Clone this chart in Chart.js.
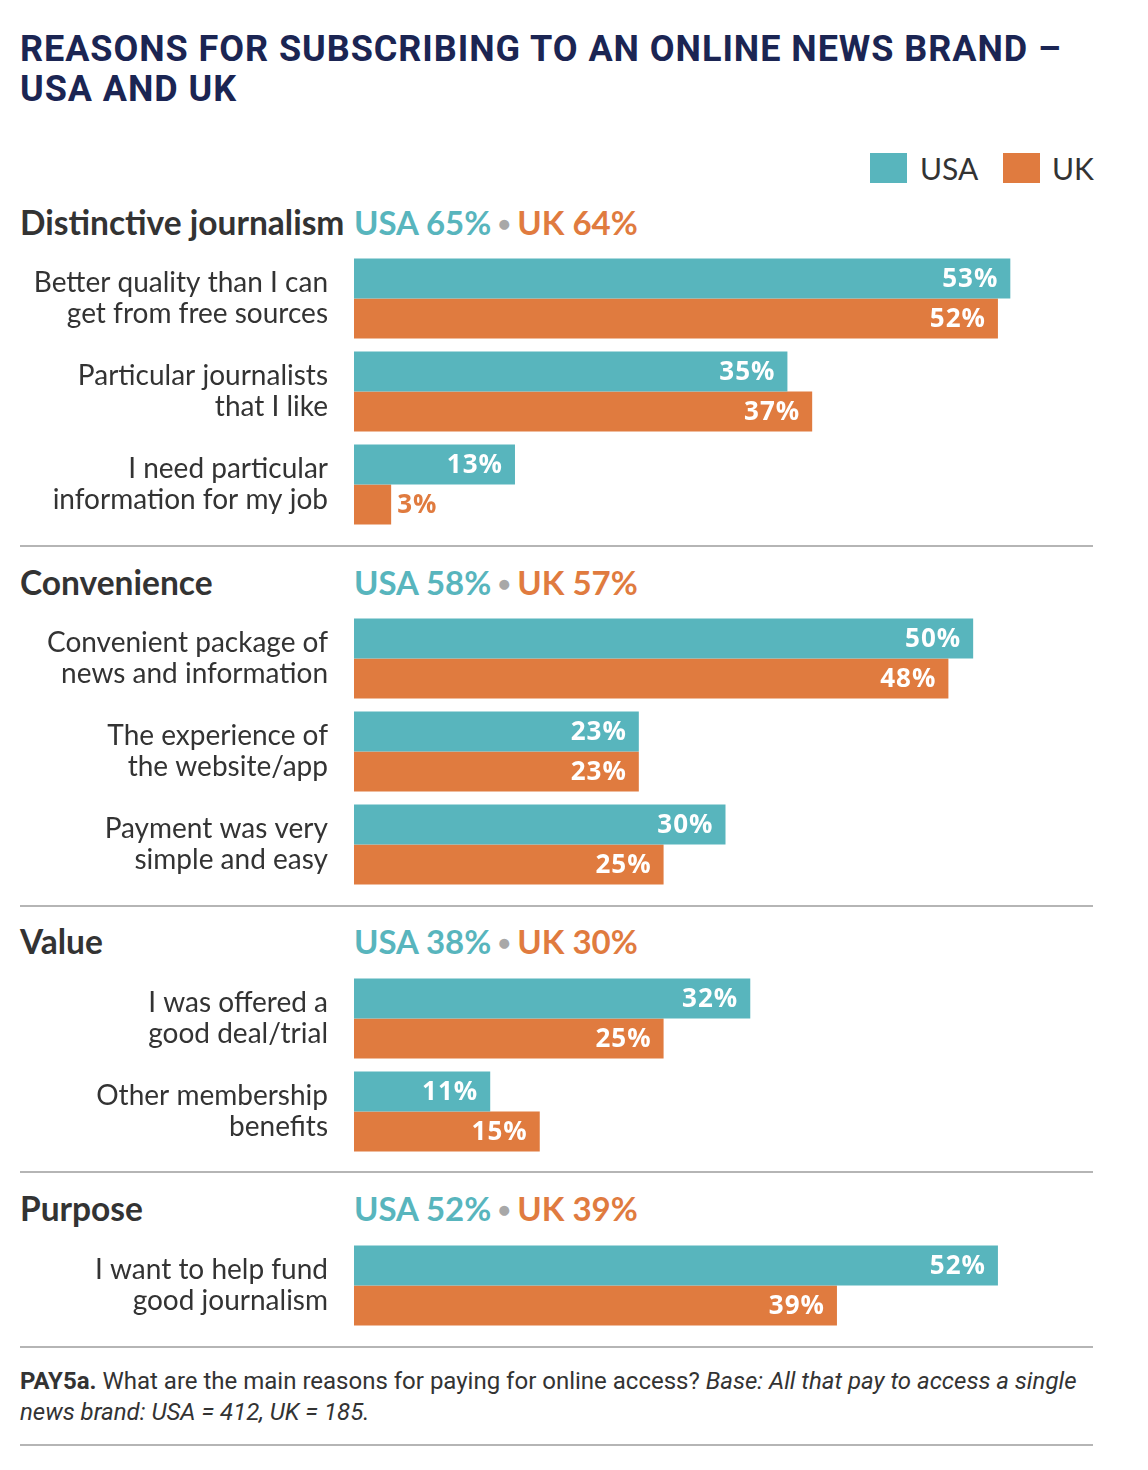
<!DOCTYPE html>
<html>
<head>
<meta charset="utf-8">
<script src="https://cdn.jsdelivr.net/npm/chart.js@4.4.1/dist/chart.umd.min.js"></script>
<style>
  body { margin: 0; background: #fff; width: 1148px; height: 1470px; position: relative; font-family: Lato, "Open Sans", sans-serif; color: #333; }
  .abs { position: absolute; }
  #title { left: 20px; top: 29px; font-family: Roboto, sans-serif; font-weight: 700; font-size: 36px; line-height: 40px; color: #1b2553; letter-spacing: 0.95px; white-space: nowrap; }
  .legend { top: 153px; font-size: 30px; line-height: 30px; color: #333; }
  .swatch { width: 37px; height: 30px; }
  .head { left: 20px; font-size: 33.5px; font-weight: 700; line-height: 36px; color: #333; white-space: nowrap; }
  .tot { left: 354px; font-size: 33px; font-weight: 700; line-height: 36px; white-space: nowrap; }
  .usa { color: #58b5bd; }
  .uk { color: #e07b3f; }
  .dot { color: #a8a8a8; font-size: 20px; vertical-align: 4px; margin: 0 7px; }
  .sep { left: 20px; width: 1073px; height: 2px; background: #b5b5b5; }
  #note { left: 20px; top: 1366px; font-family: Roboto, sans-serif; font-size: 24px; line-height: 31px; color: #333; letter-spacing: 0px; white-space: nowrap; }
  canvas { position: absolute; left: 0; }
</style>
</head>
<body>
<div id="title" class="abs">REASONS FOR SUBSCRIBING TO AN ONLINE NEWS BRAND –<br>USA AND UK</div>

<div class="abs swatch" style="left:870px; top:153px; background:#58b5bd"></div>
<div class="abs legend" style="left:920px">USA</div>
<div class="abs swatch" style="left:1003px; top:153px; background:#e07b3f"></div>
<div class="abs legend" style="left:1052px">UK</div>

<div id="headers"></div>

<canvas id="c0" width="1097" height="279" style="top:251.5px"></canvas>
<canvas id="c1" width="1097" height="279" style="top:611.5px"></canvas>
<canvas id="c2" width="1097" height="186" style="top:971.5px"></canvas>
<canvas id="c3" width="1097" height="93" style="top:1238.5px"></canvas>

<div class="abs sep" style="top:545px"></div>
<div class="abs sep" style="top:905px"></div>
<div class="abs sep" style="top:1171px"></div>
<div class="abs sep" style="top:1346px"></div>
<div class="abs sep" style="top:1444px"></div>

<div id="note" class="abs"><b>PAY5a.</b> What are the main reasons for paying for online access? <i>Base: All that pay to access a single<br>news brand: USA = 412, UK = 185.</i></div>

<script>
"use strict";

// section headers and their totals
const sectionNames = ['Distinctive journalism', 'Convenience', 'Value', 'Purpose'];
const usaTotals = [65, 58, 38, 52];
const ukTotals = [64, 57, 30, 39];

// reasons per section (two-line labels)
const reasons = [
    [['Better quality than I can', 'get from free sources'], ['Particular journalists', 'that I like'], ['I need particular', 'information for my job']],
    [['Convenient package of', 'news and information'], ['The experience of', 'the website/app'], ['Payment was very', 'simple and easy']],
    [['I was offered a', 'good deal/trial'], ['Other membership', 'benefits']],
    [['I want to help fund', 'good journalism']]
];

// values, % of subscribers
const usaValues = [[53, 35, 13], [50, 23, 30], [32, 11], [52]];
const ukValues = [[52, 37, 3], [48, 23, 25], [25, 15], [39]];

const teal = '#58b5bd';
const orange = '#e07b3f';
const headerTops = [204, 564, 923, 1190];

// header text rows
const headBox = document.getElementById('headers');
sectionNames.forEach((name, i) => {
    headBox.insertAdjacentHTML('beforeend',
        '<div class="abs head" style="top:' + headerTops[i] + 'px">' + name + '</div>' +
        '<div class="abs tot" style="top:' + headerTops[i] + 'px"><span class="usa">USA ' + usaTotals[i] +
        '%</span><span class="dot">●</span><span class="uk">UK ' + ukTotals[i] + '%</span></div>');
});

// value labels inside / beside the bars
const valueLabels = {
    id: 'valueLabels',
    afterDatasetsDraw(chart) {
        const ctx = chart.ctx;
        chart.data.datasets.forEach((ds, i) => {
            chart.getDatasetMeta(i).data.forEach((bar, j) => {
                const txt = ds.data[j] + '%';
                ctx.save();
                ctx.font = 'bold 26px "Open Sans"';
                ctx.letterSpacing = '1px';
                ctx.textBaseline = 'middle';
                if (bar.x - bar.base > 70) {
                    ctx.fillStyle = '#fff';
                    ctx.textAlign = 'right';
                    ctx.fillText(txt, bar.x - 12, bar.y + 1);
                } else {
                    ctx.fillStyle = ds.backgroundColor;
                    ctx.textAlign = 'left';
                    ctx.fillText(txt, bar.x + 6, bar.y + 1);
                }
                ctx.restore();
            });
        });
    }
};

reasons.forEach((labels, i) => {
    new Chart(document.getElementById('c' + i), {
        type: 'bar',
        data: {
            labels: labels,
            datasets: [
                { label: 'USA', data: usaValues[i], backgroundColor: teal },
                { label: 'UK', data: ukValues[i], backgroundColor: orange }
            ]
        },
        options: {
            indexAxis: 'y',
            responsive: false,
            animation: false,
            categoryPercentage: 80 / 93,
            barPercentage: 1,
            layout: { padding: 0 },
            scales: {
                x: { display: false, min: 0, max: 60 },
                y: {
                    grid: { display: false },
                    border: { display: false },
                    afterFit: (scale) => {
                        scale.width = 354;
                        scale.paddingTop = 0;
                        scale.paddingBottom = 0;
                    },
                    ticks: {
                        padding: 18,
                        color: '#333',
                        font: { family: 'Lato', size: 28, lineHeight: 1.1 }
                    }
                }
            },
            plugins: {
                legend: { display: false },
                tooltip: { enabled: false }
            }
        },
        plugins: [valueLabels]
    });
});
</script>
</body>
</html>
